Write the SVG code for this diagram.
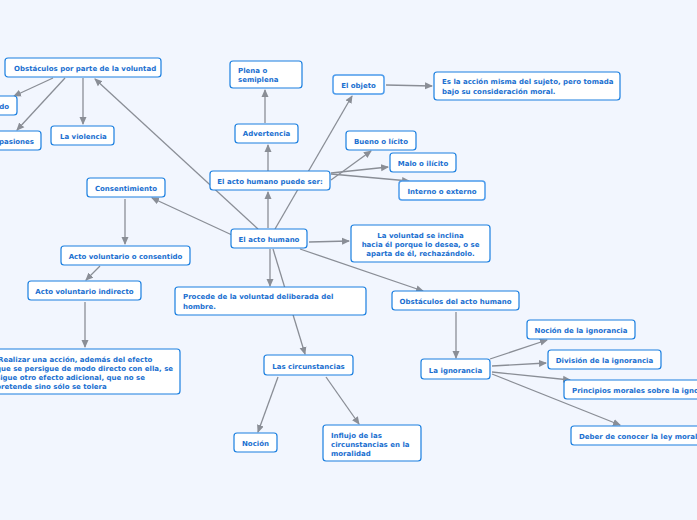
<svg xmlns="http://www.w3.org/2000/svg" width="697" height="520" viewBox="0 0 697 520">
<style>
.n rect{fill:#fff;stroke:#1a7fe0;stroke-width:1.2}
.l rect{stroke:#4b9bec;stroke-width:1.5}
text{font-family:"DejaVu Sans",Verdana,sans-serif;font-weight:bold;font-size:7px;fill:#1a6fd0}
.e line{stroke:#8a8e96;stroke-width:1.3;marker-end:url(#a)}
</style>
<defs><marker id="a" markerWidth="8" markerHeight="8" refX="7" refY="4" orient="auto" markerUnits="userSpaceOnUse"><path d="M0,0.5 L8,4 L0,7.5Z" fill="#8a8e96"/></marker></defs>
<rect width="697" height="520" fill="#f2f6fe"/>
<g class="e">
<line x1="258" y1="229" x2="95" y2="79"/>
<line x1="232" y1="235" x2="152" y2="198"/>
<line x1="125" y1="199" x2="125" y2="244"/>
<line x1="100" y1="266" x2="86" y2="280"/>
<line x1="85" y1="302" x2="85" y2="347"/>
<line x1="53" y1="78" x2="14" y2="96"/>
<line x1="65" y1="78" x2="17" y2="130"/>
<line x1="83" y1="78" x2="83" y2="124"/>
<line x1="268" y1="228" x2="268" y2="192"/>
<line x1="268" y1="171" x2="268" y2="145"/>
<line x1="265" y1="123" x2="265" y2="90"/>
<line x1="275" y1="229" x2="352" y2="96"/>
<line x1="386" y1="85" x2="432" y2="86"/>
<line x1="331" y1="180" x2="371" y2="151"/>
<line x1="331" y1="173" x2="388" y2="167"/>
<line x1="331" y1="174" x2="409" y2="181"/>
<line x1="309" y1="242" x2="349" y2="241"/>
<line x1="300" y1="249" x2="423" y2="291"/>
<line x1="270" y1="249" x2="270" y2="286"/>
<line x1="273" y1="249" x2="305" y2="354"/>
<line x1="278" y1="377" x2="258" y2="432"/>
<line x1="326" y1="377" x2="359" y2="424"/>
<line x1="456" y1="312" x2="456" y2="358"/>
<line x1="490" y1="359" x2="547" y2="340"/>
<line x1="492" y1="366" x2="546" y2="363"/>
<line x1="492" y1="372" x2="570" y2="380"/>
<line x1="492" y1="374" x2="620" y2="425"/>
</g>
<g id="n1" class="n"><rect x="5" y="58" width="156" height="19" rx="3"/><text x="14" y="71">Obstáculos por parte de la voluntad</text></g>
<g id="n2" class="n"><rect x="-40" y="96" width="57" height="19" rx="3"/><text x="9" y="109" text-anchor="end">El miedo</text></g>
<g id="n3" class="n"><rect x="-30" y="131" width="71" height="19" rx="3"/><text x="34" y="144" text-anchor="end">Las pasiones</text></g>
<g id="n4" class="n"><rect x="51" y="126" width="63" height="19" rx="3"/><text x="60" y="139">La violencia</text></g>
<g id="n5" class="n"><rect x="230" y="61" width="72" height="27" rx="3"/><text x="238" y="73">Plena o</text><text x="238" y="82">semiplena</text></g>
<g id="n6" class="n"><rect x="235" y="124" width="63" height="19" rx="3"/><text x="266.5" y="136" text-anchor="middle">Advertencia</text></g>
<g id="n7" class="n l"><rect x="333" y="75" width="51" height="19" rx="3"/><text x="358.5" y="88" text-anchor="middle">El objeto</text></g>
<g id="n8" class="n"><rect x="434" y="72" width="186" height="28" rx="3"/><text x="442" y="84">Es la acción misma del sujeto, pero tomada</text><text x="442" y="94">bajo su consideración moral.</text></g>
<g id="n9" class="n"><rect x="346" y="131" width="70" height="19" rx="3"/><text x="381" y="144" text-anchor="middle">Bueno o lícito</text></g>
<g id="n10" class="n"><rect x="390" y="153" width="66" height="19" rx="3"/><text x="423" y="166" text-anchor="middle">Malo o ilícito</text></g>
<g id="n11" class="n l"><rect x="399" y="181" width="86" height="19" rx="3"/><text x="442" y="194" text-anchor="middle">Interno o externo</text></g>
<g id="n12" class="n"><rect x="210" y="171" width="120" height="19" rx="3"/><text x="270" y="184" text-anchor="middle">El acto humano puede ser:</text></g>
<g id="n13" class="n"><rect x="87" y="178" width="78" height="19" rx="3"/><text x="126" y="191" text-anchor="middle">Consentimiento</text></g>
<g id="n14" class="n"><rect x="231" y="229" width="76" height="19" rx="3"/><text x="269" y="242" text-anchor="middle">El acto humano</text></g>
<g id="n15" class="n"><rect x="351" y="225" width="139" height="37" rx="3"/><text x="420.5" y="238" text-anchor="middle">La voluntad se inclina</text><text x="420.5" y="247" text-anchor="middle">hacia él porque lo desea, o se</text><text x="420.5" y="256" text-anchor="middle">aparta de él, rechazándolo.</text></g>
<g id="n16" class="n"><rect x="61" y="246" width="129" height="19" rx="3"/><text x="125.5" y="259" text-anchor="middle">Acto voluntario o consentido</text></g>
<g id="n17" class="n"><rect x="28" y="281" width="113" height="19" rx="3"/><text x="84.5" y="294" text-anchor="middle">Acto voluntario indirecto</text></g>
<g id="n18" class="n"><rect x="175" y="287" width="191" height="28" rx="3"/><text x="183" y="299">Procede de la voluntad deliberada del</text><text x="183" y="309">hombre.</text></g>
<g id="n19" class="n"><rect x="392" y="291" width="127" height="19" rx="3"/><text x="455.5" y="304" text-anchor="middle">Obstáculos del acto humano</text></g>
<g id="n20" class="n"><rect x="-30" y="349" width="210" height="45" rx="3"/><text x="-2" y="362">Realizar una acción, además del efecto</text><text x="-4" y="371">que se persigue de modo directo con ella, se</text><text x="-4" y="380">sigue otro efecto adicional, que no se</text><text x="-4" y="389">pretende sino sólo se tolera</text></g>
<g id="n21" class="n"><rect x="264" y="355" width="89" height="20" rx="3"/><text x="308.5" y="369" text-anchor="middle">Las circunstancias</text></g>
<g id="n22" class="n"><rect x="527" y="320" width="108" height="19" rx="3"/><text x="581" y="333" text-anchor="middle">Noción de la ignorancia</text></g>
<g id="n23" class="n"><rect x="421" y="359" width="69" height="20" rx="3"/><text x="455.5" y="373" text-anchor="middle">La ignorancia</text></g>
<g id="n24" class="n"><rect x="548" y="350" width="113" height="19" rx="3"/><text x="604.5" y="363" text-anchor="middle">División de la ignorancia</text></g>
<g id="n25" class="n"><rect x="564" y="380" width="150" height="19" rx="3"/><text x="572" y="393">Principios morales sobre la ignorancia</text></g>
<g id="n26" class="n"><rect x="234" y="433" width="43" height="19" rx="3"/><text x="255.5" y="446" text-anchor="middle">Noción</text></g>
<g id="n27" class="n"><rect x="323" y="425" width="98" height="36" rx="3"/><text x="331" y="438">Influjo de las</text><text x="331" y="447">circunstancias en la</text><text x="331" y="456">moralidad</text></g>
<g id="n28" class="n"><rect x="571" y="426" width="140" height="19" rx="3"/><text x="579" y="439">Deber de conocer la ley moral</text></g>
</svg>
